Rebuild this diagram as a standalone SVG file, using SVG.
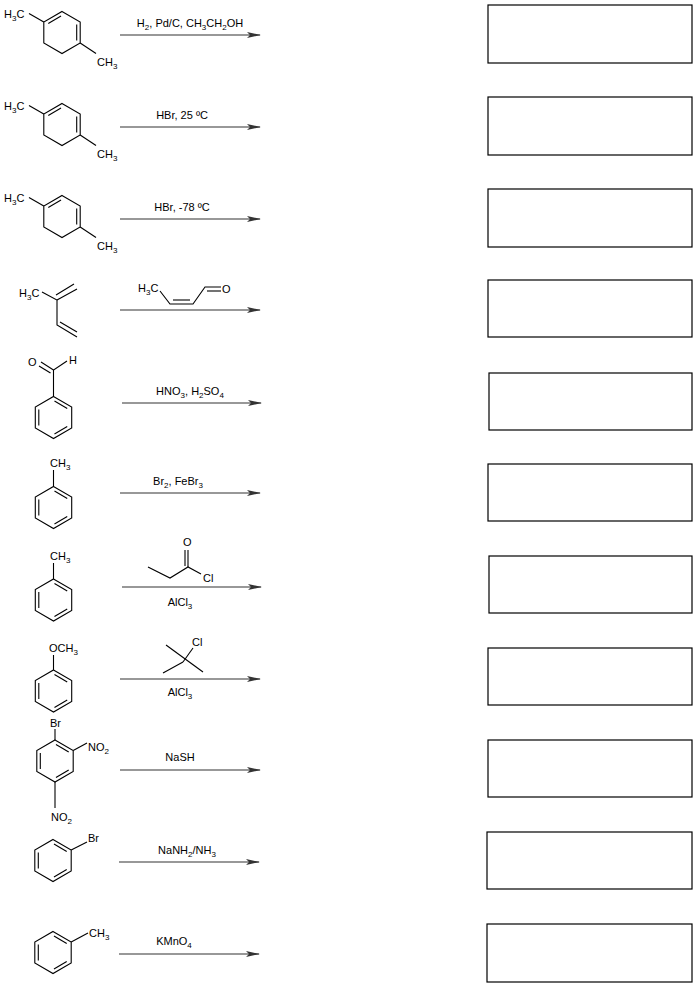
<svg xmlns="http://www.w3.org/2000/svg" width="698" height="986" viewBox="0 0 698 986">
<style>
line,polyline,polygon.r{stroke:#000;stroke-width:1.1;fill:none}
text{font-family:"Liberation Sans",Arial,sans-serif;font-size:11px;fill:#000}
.s{font-size:8px}
.box{fill:#fff;stroke:#000;stroke-width:1.2}
.arr{stroke:#333;stroke-width:1.2;fill:none}
</style>
<defs>
<marker id="ah" markerWidth="14" markerHeight="8" refX="13" refY="4" orient="auto" markerUnits="userSpaceOnUse"><path d="M0,1 L14,4 L0,7 L3,4 Z" fill="#333"/></marker>
<g id="benz"><polygon class="r" points="0,-21 18.2,-10.5 18.2,10.5 0,21 -18.2,10.5 -18.2,-10.5"/><line x1="-14.7" y1="-8" x2="-14.7" y2="8"/><line x1="0.98" y1="-16.4" x2="13.72" y2="-9.05"/><line x1="13.72" y1="9.05" x2="0.98" y2="16.4"/></g>
<g id="diene"><polygon class="r" points="0,-21 18.2,-10.5 18.2,10.5 0,21 -18.2,10.5 -18.2,-10.5"/><line x1="14.7" y1="-8" x2="14.7" y2="8"/><line x1="-0.98" y1="-16.4" x2="-13.72" y2="-9.05"/><line x1="-18.2" y1="-10.5" x2="-33" y2="-19"/><line x1="18.2" y1="10.5" x2="34" y2="21"/><text x="-58" y="-14.5">H<tspan class="s" dy="3">3</tspan><tspan dy="-3">C</tspan></text><text x="35" y="33.5">CH<tspan class="s" dy="3">3</tspan></text></g>
</defs>

<g id="connectors">
<line class="arr" x1="120" y1="35" x2="260" y2="35" marker-end="url(#ah)"/>
<line class="arr" x1="120" y1="127" x2="260" y2="127" marker-end="url(#ah)"/>
<line class="arr" x1="120" y1="219" x2="260" y2="219" marker-end="url(#ah)"/>
<line class="arr" x1="120" y1="310" x2="260" y2="310" marker-end="url(#ah)"/>
<line class="arr" x1="122" y1="403" x2="261" y2="403" marker-end="url(#ah)"/>
<line class="arr" x1="120" y1="493" x2="260" y2="493" marker-end="url(#ah)"/>
<line class="arr" x1="122" y1="587" x2="261" y2="587" marker-end="url(#ah)"/>
<line class="arr" x1="120" y1="679" x2="260" y2="679" marker-end="url(#ah)"/>
<line class="arr" x1="120" y1="770" x2="260" y2="770" marker-end="url(#ah)"/>
<line class="arr" x1="119" y1="862" x2="259" y2="862" marker-end="url(#ah)"/>
<line class="arr" x1="119" y1="954" x2="259" y2="954" marker-end="url(#ah)"/>
</g>

<g id="row1"><use href="#diene" x="62" y="32.5"/><text x="190" y="27" text-anchor="middle">H<tspan class="s" dy="3">2</tspan><tspan dy="-3">, Pd/C, CH</tspan><tspan class="s" dy="3">3</tspan><tspan dy="-3">CH</tspan><tspan class="s" dy="3">2</tspan><tspan dy="-3">OH</tspan></text><rect class="box" x="488" y="5" width="204" height="58"/></g>
<g id="row2"><use href="#diene" x="62" y="124.5"/><text x="182" y="119" text-anchor="middle">HBr, 25 ºC</text><rect class="box" x="488" y="97" width="204" height="58"/></g>
<g id="row3"><use href="#diene" x="62" y="216.5"/><text x="182" y="211" text-anchor="middle">HBr, -78 ºC</text><rect class="box" x="488" y="189" width="204" height="58"/></g>
<g id="row4">
<text x="19" y="297">H<tspan class="s" dy="3">3</tspan><tspan dy="-3">C</tspan></text>
<polyline points="42,292 57,300 57,325 77,337"/><line x1="57" y1="300" x2="77" y2="289"/><line x1="56" y1="295" x2="74" y2="284"/><line x1="60" y1="322" x2="77" y2="332"/>
<text x="138" y="292">H<tspan class="s" dy="3">3</tspan><tspan dy="-3">C</tspan></text>
<polyline points="160,291 170,304 193,304 205,287 221,287"/><line x1="173" y1="300" x2="190" y2="300"/><line x1="207" y1="291" x2="221" y2="291"/><text x="222" y="293">O</text>
<rect class="box" x="488" y="280" width="204" height="57"/></g>
<g id="row5"><use href="#benz" x="53.5" y="417.5"/><polyline points="53.5,396.5 53.5,370 67,361"/><line x1="53.5" y1="370" x2="41" y2="362"/><line x1="50.5" y1="373" x2="39" y2="366"/><text x="28" y="366">O</text><text x="69" y="364">H</text>
<text x="190" y="395" text-anchor="middle">HNO<tspan class="s" dy="3">3</tspan><tspan dy="-3">, H</tspan><tspan class="s" dy="3">2</tspan><tspan dy="-3">SO</tspan><tspan class="s" dy="3">4</tspan></text><rect class="box" x="489" y="373" width="203" height="57"/></g>
<g id="row6"><use href="#benz" x="53.5" y="507.5"/><line x1="53.5" y1="486.5" x2="53.5" y2="470"/><text x="50" y="467">CH<tspan class="s" dy="3">3</tspan></text>
<text x="178" y="485" text-anchor="middle">Br<tspan class="s" dy="3">2</tspan><tspan dy="-3">, FeBr</tspan><tspan class="s" dy="3">3</tspan></text><rect class="box" x="488" y="464" width="204" height="57"/></g>
<g id="row7"><use href="#benz" x="53.5" y="600"/><line x1="53.5" y1="579" x2="53.5" y2="563"/><text x="50" y="560">CH<tspan class="s" dy="3">3</tspan></text>
<polyline points="148,567 170,578 188,567 201,574"/><line x1="188" y1="567" x2="188" y2="550"/><line x1="185" y1="566" x2="185" y2="550"/><text x="183" y="546">O</text><text x="203" y="582">Cl</text>
<text x="180" y="606" text-anchor="middle">AlCl<tspan class="s" dy="3">3</tspan></text><rect class="box" x="489" y="556" width="203" height="57"/></g>
<g id="row8"><use href="#benz" x="53.5" y="691"/><line x1="53.5" y1="670" x2="53.5" y2="655"/><text x="49" y="652">OCH<tspan class="s" dy="3">3</tspan></text>
<line x1="166" y1="645" x2="203" y2="672"/><line x1="163" y1="673" x2="183" y2="662"/><line x1="183" y1="662" x2="193" y2="648"/><text x="192" y="646">Cl</text>
<text x="180" y="696" text-anchor="middle">AlCl<tspan class="s" dy="3">3</tspan></text><rect class="box" x="488" y="648" width="204" height="57"/></g>
<g id="row9"><use href="#benz" x="55" y="761"/><line x1="55" y1="740" x2="55" y2="729"/><text x="50" y="727">Br</text><line x1="73.2" y1="750.5" x2="87" y2="743"/><text x="88" y="751">NO<tspan class="s" dy="3">2</tspan></text><line x1="55" y1="782" x2="55" y2="808"/><text x="51" y="821">NO<tspan class="s" dy="3">2</tspan></text>
<text x="180" y="761" text-anchor="middle">NaSH</text><rect class="box" x="488" y="740" width="204" height="57"/></g>
<g id="row10"><use href="#benz" x="53" y="860.5"/><line x1="71.2" y1="850" x2="87" y2="842"/><text x="88" y="842">Br</text>
<text x="187" y="854" text-anchor="middle">NaNH<tspan class="s" dy="3">2</tspan><tspan dy="-3">/NH</tspan><tspan class="s" dy="3">3</tspan></text><rect class="box" x="487" y="832" width="205" height="57"/></g>
<g id="row11"><use href="#benz" x="53" y="952.5"/><line x1="71.2" y1="942" x2="88" y2="933"/><text x="89" y="937">CH<tspan class="s" dy="3">3</tspan></text>
<text x="174" y="945" text-anchor="middle">KMnO<tspan class="s" dy="3">4</tspan></text><rect class="box" x="487" y="924" width="205" height="58"/></g>
</svg>
